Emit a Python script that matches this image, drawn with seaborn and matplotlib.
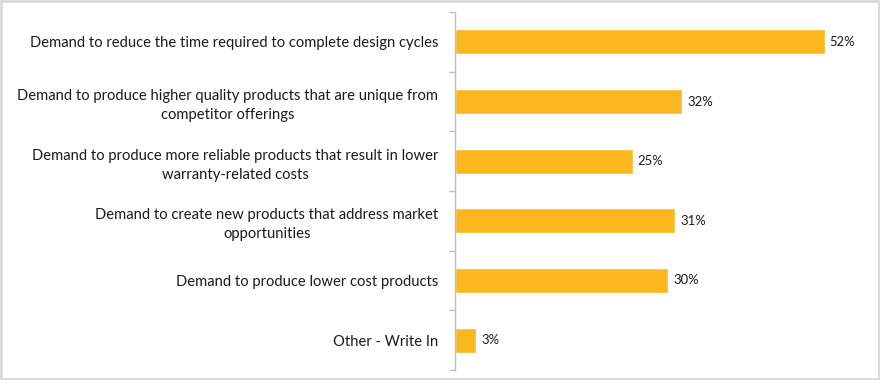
import numpy as np
import pandas as pd
import matplotlib
matplotlib.use("Agg")
import matplotlib.pyplot as plt
from matplotlib.patches import Rectangle
import seaborn as sns

# Dados
categories = [
    "Demand to reduce the time required to complete design cycles",
    "Demand to produce higher quality products that are unique from\ncompetitor offerings",
    "Demand to produce more reliable products that result in lower\nwarranty-related costs",
    "Demand to create new products that address market\nopportunities",
    "Demand to produce lower cost products",
    "Other - Write In",
]
values = [52, 32, 25, 31, 30, 3]
value_labels = ["52%", "32%", "25%", "31%", "30%", "3%"]

sns.set_style("white")
plt.rcParams["font.family"] = ["Lato", "DejaVu Sans"]

df = pd.DataFrame({"category": categories, "value": values})

fig = plt.figure(figsize=(8.8, 3.8), dpi=100)
ax = fig.add_axes([455 / 880, 10 / 380, 1 - 455 / 880 - 2 / 880, 358 / 380])

sns.barplot(data=df, x="value", y="category", color="#FDB71E", saturation=1,
            width=0.42, ax=ax)

ax.set_xlim(0, 59.5)
ax.set_ylim(len(categories) - 0.5, -0.5)
ax.set_xlabel("")
ax.set_ylabel("")
ax.set_xticks([])

for s in ["top", "right", "bottom"]:
    ax.spines[s].set_visible(False)
ax.spines["left"].set_color("#BFBFBF")
ax.spines["left"].set_linewidth(1)

# rótulos no centro, marcas nas divisões
ax.tick_params(axis="y", which="major", left=False, length=0, pad=12, labelsize=10.6,
               labelcolor="#1a1a1a")
for lbl in ax.get_yticklabels():
    lbl.set_multialignment("center")
    lbl.set_linespacing(1.45)
ax.set_yticks(np.arange(-0.5, len(categories)), minor=True)
ax.tick_params(axis="y", which="minor", left=True, length=4, color="#BFBFBF", width=1)

for i, (v, t) in enumerate(zip(values, value_labels)):
    ax.text(v + 0.7, i, t, va="center", ha="left", fontsize=9.4, color="#1a1a1a")

fig.patches.append(Rectangle((0.001, 0.002), 0.998, 0.996, transform=fig.transFigure,
                             fill=False, edgecolor="#D9D9D9", linewidth=2))

fig.savefig("out.png", dpi=100)
